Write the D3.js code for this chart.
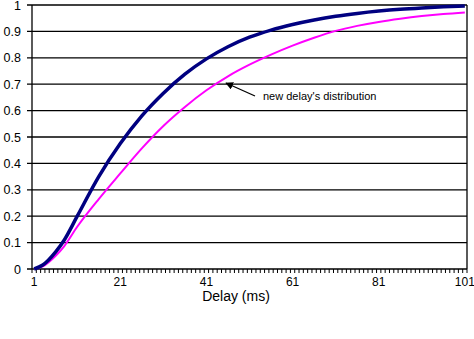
<!DOCTYPE html>
<html>
<head>
<meta charset="utf-8">
<script src="https://cdn.jsdelivr.net/npm/d3@7"></script>
<style>
  html, body { margin: 0; padding: 0; background: #fff; }
  svg { display: block; font-family: "Liberation Sans", Arial, sans-serif; }
</style>
</head>
<body>
<svg id="chart" width="474" height="339"></svg>
<script>
// Delay categories 1..101 ms; cumulative distribution sampled along the range
const delays = [1, 3, 6, 8, 11, 16, 21, 26, 31, 36, 41, 46, 51, 56, 61, 66, 71, 76, 81, 86, 91, 96, 101];
const oldDelay = [0, 0.015, 0.065, 0.11, 0.2, 0.35, 0.475, 0.58, 0.666, 0.738, 0.796, 0.842, 0.878, 0.905, 0.926, 0.943, 0.957, 0.968, 0.977, 0.984, 0.989, 0.993, 0.996];
const newDelay = [0, 0.01, 0.05, 0.087, 0.16, 0.265, 0.362, 0.457, 0.542, 0.614, 0.677, 0.73, 0.774, 0.812, 0.846, 0.876, 0.902, 0.921, 0.936, 0.948, 0.958, 0.966, 0.972];
const xTickLabels = [1, 21, 41, 61, 81, 101];
const yTicks = [0, 0.1, 0.2, 0.3, 0.4, 0.5, 0.6, 0.7, 0.8, 0.9, 1];
const annotation = "new delay's distribution";
const axisTitle = "Delay (ms)";

const svg = d3.select("#chart");
const plot = { left: 32, right: 467, top: 5, bottom: 269 };

// category axis: 101 slots, each value placed at its slot centre
const nCat = 101;
const x = d3.scaleLinear().domain([0.5, nCat + 0.5]).range([plot.left, plot.right]);
const y = d3.scaleLinear().domain([0, 1]).range([plot.bottom, plot.top]);

// horizontal gridlines (with short outward ticks)
svg.append("g").selectAll("line").data(yTicks).join("line")
  .attr("x1", plot.left - 5).attr("x2", plot.right)
  .attr("y1", d => y(d)).attr("y2", d => y(d))
  .attr("stroke", "#000").attr("stroke-width", 1.3);

// y labels
svg.append("g").selectAll("text").data(yTicks).join("text")
  .attr("x", 21).attr("y", d => y(d) + 4.5)
  .attr("text-anchor", "end").attr("font-size", 12.5).attr("fill", "#000")
  .text(d => d === 0 ? "0" : d === 1 ? "1" : d3.format(".1f")(d));

// frame: left axis and right edge
svg.append("line").attr("x1", plot.left).attr("x2", plot.left)
  .attr("y1", plot.top).attr("y2", plot.bottom).attr("stroke", "#000").attr("stroke-width", 1.3);
svg.append("line").attr("x1", plot.right).attr("x2", plot.right)
  .attr("y1", plot.top).attr("y2", plot.bottom).attr("stroke", "#000").attr("stroke-width", 1.3);

// x minor ticks at every category boundary
const bounds = d3.range(0.5, nCat + 1, 1);
svg.append("g").selectAll("line").data(bounds).join("line")
  .attr("x1", d => x(d)).attr("x2", d => x(d))
  .attr("y1", plot.bottom).attr("y2", plot.bottom + 4)
  .attr("stroke", "#000").attr("stroke-width", 1);

// x labels
svg.append("g").selectAll("text").data(xTickLabels).join("text")
  .attr("x", d => x(d)).attr("y", 286)
  .attr("text-anchor", "middle").attr("font-size", 12).attr("fill", "#000")
  .text(d => d);

svg.append("text").attr("x", 236).attr("y", 301)
  .attr("text-anchor", "middle").attr("font-size", 14).attr("fill", "#000")
  .text(axisTitle);

// curves
const line = d3.line().x(d => x(d[0])).y(d => y(d[1])).curve(d3.curveMonotoneX);
svg.append("path").datum(delays.map((d, i) => [d, newDelay[i]]))
  .attr("d", line).attr("fill", "none").attr("stroke", "#ff00ff").attr("stroke-width", 2);
svg.append("path").datum(delays.map((d, i) => [d, oldDelay[i]]))
  .attr("d", line).attr("fill", "none").attr("stroke", "#000080").attr("stroke-width", 3.5);

// annotation arrow pointing at the new distribution
svg.append("defs").append("marker")
  .attr("id", "arrowhead").attr("viewBox", "0 0 10 10").attr("refX", 9).attr("refY", 5)
  .attr("markerWidth", 6).attr("markerHeight", 6).attr("orient", "auto")
  .append("path").attr("d", "M0,0 L10,5 L0,10 Z").attr("fill", "#000");
svg.append("line").attr("x1", 255).attr("y1", 96).attr("x2", 226).attr("y2", 83)
  .attr("stroke", "#000").attr("stroke-width", 1.3).attr("marker-end", "url(#arrowhead)");
svg.append("text").attr("x", 263).attr("y", 100)
  .attr("font-size", 11).attr("fill", "#000").text(annotation);
</script>
</body>
</html>
